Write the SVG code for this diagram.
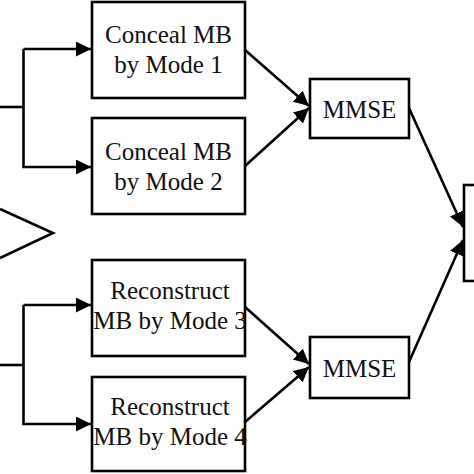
<svg xmlns="http://www.w3.org/2000/svg" width="474" height="474" viewBox="0 0 474 474">
<defs>
<marker id="ah" markerUnits="userSpaceOnUse" markerWidth="16" markerHeight="16" refX="15" refY="7.5" orient="auto">
<path d="M0,0 L15,7.5 L0,15 z" fill="#000"/>
</marker>
<style>
.box{fill:#fff;stroke:#000;stroke-width:2.6}
.t{font-family:"Liberation Serif","Times New Roman",serif;font-size:25px;fill:#111;text-anchor:middle}
.c{fill:none;stroke:#000;stroke-width:2.6}
.a{fill:none;stroke:#000;stroke-width:2.6;marker-end:url(#ah)}
</style>
</defs>
<rect width="474" height="474" fill="#fff"/>
<g id="decision">
<polyline class="c" points="0,209 53,233 0,258"/>
</g>
<g id="connectors">
<polyline class="c" points="0,107 23.5,107"/>
<polyline class="a" points="23.5,49 23.5,167 91,167"/>
<polyline class="a" points="23.5,49 91,49"/>
<polyline class="c" points="0,365 23.5,365"/>
<polyline class="a" points="23.5,305 23.5,424 91,424"/>
<polyline class="a" points="23.5,305 91,305"/>
<line class="a" x1="245" y1="50" x2="309" y2="106"/>
<line class="a" x1="245" y1="166" x2="309" y2="108"/>
<line class="a" x1="409" y1="108" x2="463" y2="227"/>
<line class="a" x1="245" y1="307" x2="309" y2="364"/>
<line class="a" x1="245" y1="422" x2="309" y2="367"/>
<line class="a" x1="409" y1="362" x2="463" y2="240"/>
</g>
<g id="box1">
<rect class="box" x="92" y="2" width="153" height="96"/>
<text class="t" x="168.5" y="43">Conceal MB</text>
<text class="t" x="168.5" y="73">by Mode 1</text>
</g>
<g id="box2">
<rect class="box" x="92" y="118" width="153" height="96"/>
<text class="t" x="168.5" y="160">Conceal MB</text>
<text class="t" x="168.5" y="190">by Mode 2</text>
</g>
<g id="box3">
<rect class="box" x="92" y="260" width="153" height="96"/>
<text class="t" x="170" y="299">Reconstruct</text>
<text class="t" x="170" y="329">MB by Mode 3</text>
</g>
<g id="box4">
<rect class="box" x="92" y="377" width="153" height="94"/>
<text class="t" x="170" y="415">Reconstruct</text>
<text class="t" x="170" y="445">MB by Mode 4</text>
</g>
<g id="mmse1">
<rect class="box" x="310" y="79" width="99" height="59"/>
<text class="t" x="359.5" y="118">MMSE</text>
</g>
<g id="mmse2">
<rect class="box" x="310" y="337" width="99" height="61"/>
<text class="t" x="359.5" y="377">MMSE</text>
</g>
<g id="final">
<rect class="box" x="464" y="185" width="20" height="96"/>
</g>
</svg>
